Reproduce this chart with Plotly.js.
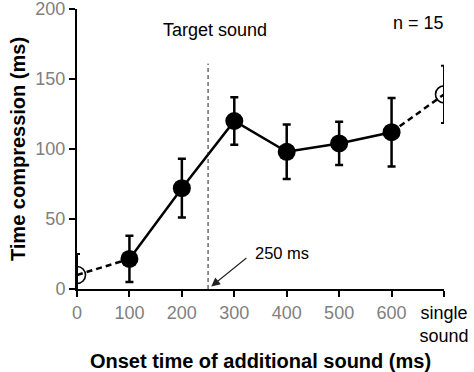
<!DOCTYPE html>
<html>
<head>
<meta charset="utf-8">
<script src="https://cdn.plot.ly/plotly-3.0.1.min.js"></script>
<style>html,body{margin:0;padding:0;background:#fff;}#chart{width:474px;height:372px;}</style>
</head>
<body>
<div id="chart"></div>
<script>
// Data
const categories = ['0', '100', '200', '300', '400', '500', '600', 'single sound'];
const tickLabels = ['0', '100', '200', '300', '400', '500', '600', '<span style="color:#000">single<br>sound</span>'];
const meanValues = [10, 21.5, 72, 120, 98, 104, 112, 139];
const errValues  = [15, 16.5, 21, 17, 19.5, 15.5, 24.5, 20.5];
const targetOnsetPos = 2.5;        // 250 ms, between 200 and 300
const targetLineTop = 161;
const yTicks = [0, 50, 100, 150, 200];

const idx = categories.map((c, i) => i);
const solidIdx = idx.slice(1, 7);
const pick = (arr, ids) => ids.map(i => arr[i]);

const traces = [
  { // dashed connectors to open points
    x: [0, 1], y: pick(meanValues, [0, 1]), mode: 'lines',
    line: {color: '#000', width: 2.5, dash: '6px,4px'}, hoverinfo: 'skip'
  },
  {
    x: [6, 7], y: pick(meanValues, [6, 7]), mode: 'lines',
    line: {color: '#000', width: 2.5, dash: '6px,4px'}, hoverinfo: 'skip'
  },
  { // solid series
    x: solidIdx, y: pick(meanValues, solidIdx), mode: 'lines+markers',
    line: {color: '#000', width: 2.5},
    marker: {color: '#000', size: 18, symbol: 'circle'},
    error_y: {type: 'data', array: pick(errValues, solidIdx), visible: true, color: '#000', thickness: 2.5, width: 4}
  },
  { // open points
    x: [0, 7], y: pick(meanValues, [0, 7]), mode: 'markers',
    marker: {color: '#000', size: 17, symbol: 'circle-open', line: {width: 1.6, color: '#000'}},
    error_y: {type: 'data', array: pick(errValues, [0, 7]), visible: true, color: '#000', thickness: 2, width: 3}
  }
];

const tickFont = {family: 'Arial, "Liberation Sans", sans-serif', size: 18, color: '#7f7f7f'};
const layout = {
  width: 474, height: 372,
  margin: {l: 77, r: 30, t: 9, b: 83},
  paper_bgcolor: '#fff', plot_bgcolor: '#fff',
  showlegend: false,
  font: {family: 'Arial, "Liberation Sans", sans-serif', color: '#000'},
  xaxis: {
    range: [0, 7], tickvals: idx, ticktext: tickLabels,
    showgrid: false, zeroline: false, showline: true, linecolor: '#000', linewidth: 2,
    ticks: 'outside', ticklen: 6, tickwidth: 2, tickcolor: '#000',
    tickfont: tickFont, ticklabeloverflow: 'allow',
    title: {text: '<b>Onset time of additional sound (ms)</b>', font: {size: 20, color: '#000'}, standoff: 9}
  },
  yaxis: {
    range: [0, 200], tickvals: yTicks,
    showgrid: false, zeroline: false, showline: true, linecolor: '#000', linewidth: 2,
    ticks: 'outside', ticklen: 6, tickwidth: 2, tickcolor: '#000',
    tickfont: tickFont, ticklabeloverflow: 'allow',
    title: {text: '<b>Time compression (ms)</b>', font: {size: 20, color: '#000'}, standoff: 4}
  },
  shapes: [
    {type: 'line', xref: 'x', yref: 'y', x0: targetOnsetPos, x1: targetOnsetPos, y0: 0, y1: targetLineTop,
     line: {color: '#222', width: 1, dash: '4px,3px'}}
  ],
  annotations: [
    {xref: 'x', yref: 'y', x: 2.63, y: 185, text: 'Target sound', showarrow: false,
     font: {size: 18, color: '#000'}},
    {xref: 'x', yref: 'y', x: 6.52, y: 190, text: 'n = 15', showarrow: false,
     font: {size: 18, color: '#000'}},
    {xref: 'x', yref: 'y', x: 3.35, y: 25.5, text: '250 ms', showarrow: false, xanchor: 'left',
     font: {size: 16.5, color: '#000'}},
    {xref: 'x', yref: 'y', x: 2.56, y: 1.8, axref: 'x', ayref: 'y', ax: 3.26, ay: 23, text: ' ',
     showarrow: true, arrowhead: 2, arrowsize: 1.6, arrowwidth: 1.1, arrowcolor: '#222',
     font: {size: 1}}
  ]
};

Plotly.newPlot('chart', traces, layout, {displayModeBar: false, staticPlot: true});
</script>
</body>
</html>
